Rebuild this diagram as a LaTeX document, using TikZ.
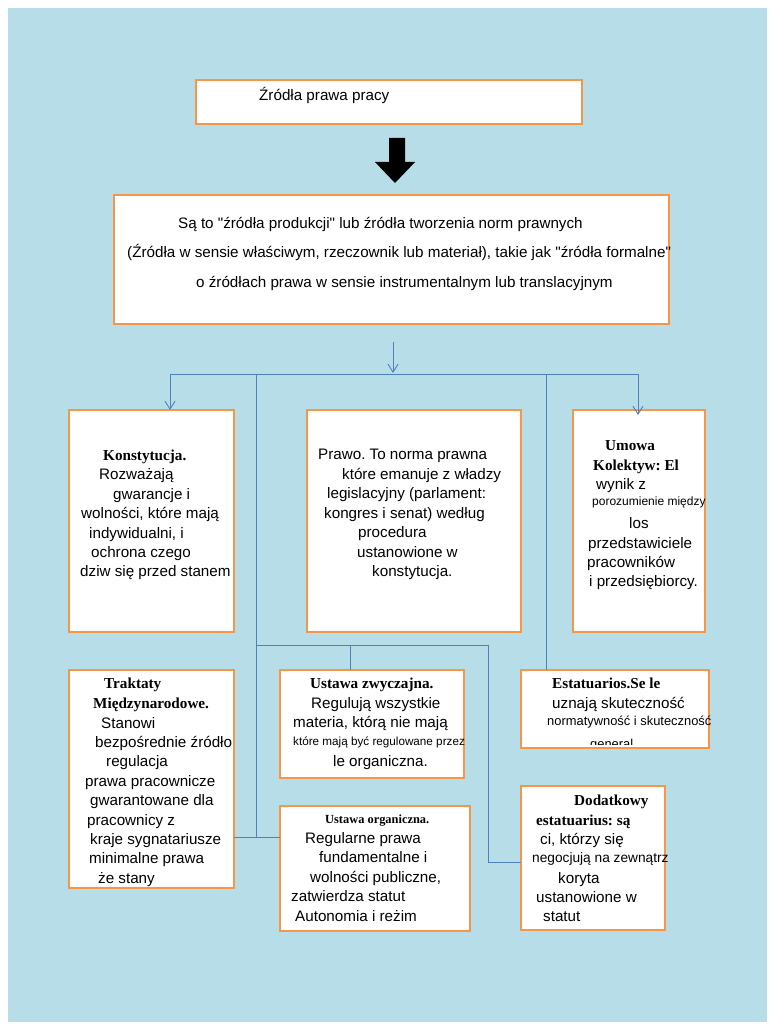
\documentclass[tikz,border=0pt]{standalone}
\usepackage{fontspec}
\setmainfont{Liberation Sans}[Ligatures=TeXOff]
\newfontfamily\hdfont{Liberation Serif}[Ligatures=TeXOff]
\usetikzlibrary{arrows.meta}
\definecolor{bgblue}{HTML}{B7DDE8}
\definecolor{boxorange}{HTML}{F79646}
\definecolor{lineblue}{HTML}{4F81BD}
\tikzset{
  box/.style={draw=boxorange,line width=2.4pt,fill=white},
  conn/.style={draw=lineblue,line width=0.9pt},
  arr/.style={conn,-{Straight Barb[length=8pt,width=10pt,line width=0.9pt]}},
  txt/.style={inner sep=0pt,anchor=base west,font=\fontsize{15.2}{19}\selectfont},
  small/.style={txt,font=\fontsize{12}{15}\selectfont},
  hd/.style={txt,font=\hdfont\bfseries\fontsize{15.2}{19}\selectfont},
}
\newcommand\boxat[5]{\path[box] (#2,#3) rectangle (#4,#5);
  \coordinate (#1-nw) at (#2,#3); \coordinate (#1-se) at (#4,#5);}
\newcommand\tl[5][txt]{\node[#1] (#2) at (#3,#4) {#5};}
\frenchspacing
\begin{document}
\begin{tikzpicture}[x=1pt,y=-1pt]
\useasboundingbox (0,0) rectangle (768,1024);
\fill[white] (0,0) rectangle (768,1024);
\fill[bgblue] (8,8) rectangle (767,1022);

% boxes
\boxat{title}{196}{80}{582}{124}
\boxat{big}{114}{195}{669}{324}
\boxat{konst}{69}{410}{234}{632}
\boxat{prawo}{307}{410}{521}{632}
\boxat{umowa}{573}{410}{705}{632}
\boxat{trakt}{69}{670}{234}{888}
\boxat{uz}{280}{670}{464}{778}
\boxat{uo}{280}{806}{470}{931}
\boxat{est}{521}{670}{709}{748}
\boxat{dod}{521}{786}{665}{930}

% block arrow
\fill[black] (389,138) -- (405,138) -- (405,162) -- (415,162) -- (395,183) -- (375,162) -- (389,162) -- cycle;

% connectors
\coordinate (a0) at (393,342);
\coordinate (a1) at (393,373);
\coordinate (hl) at (170,374);
\coordinate (hr) at (638,374);
\coordinate (v1) at (256,374);
\coordinate (v2) at (546,374);
\coordinate (j1) at (256,645);
\coordinate (j2) at (488,645);
\coordinate (j3) at (350,645);
\coordinate (j4) at (488,862);
\coordinate (j5) at (256,837);
\draw[arr] (a0) -- (a1);
\draw[conn] (hl) -- (hr);
\draw[arr] (hl) -- (hl |- konst-nw);
\draw[arr] (hr) -- ([yshift=-5pt]hr |- umowa-nw);
\draw[conn] (v1) -- (j5);
\draw[conn] (v2) -- (v2 |- est-nw);
\draw[conn] (j1) -- (j2) -- (j4) -- (j4 -| dod-nw);
\draw[conn] (j3) -- (j3 |- uz-nw);
\draw[conn] (j5 -| trakt-se) -- (j5 -| uo-nw);

% texts
\tl{t1}{259}{101}{Źródła prawa pracy}

\tl{b1}{178}{229}{Są to "źródła produkcji" lub źródła tworzenia norm prawnych}
\tl{b2}{127}{258}{(Źródła w sensie właściwym, rzeczownik lub materiał), takie jak "źródła formalne"}
\tl{b3}{196}{287}{o źródłach prawa w sensie instrumentalnym lub translacyjnym}

\tl[hd]{k1}{103}{460}{Konstytucja.}
\tl{k2}{99}{479}{Rozważają}
\tl{k3}{113}{499}{gwarancje i}
\tl{k4}{81}{518}{wolności, które mają}
\tl{k5}{89}{538}{indywidualni, i}
\tl{k6}{91}{557}{ochrona czego}
\tl{k7}{80}{576}{dziw się przed stanem}

\tl{p1}{318}{459}{Prawo. To norma prawna}
\tl{p2}{342}{479}{które emanuje z władzy}
\tl{p3}{327}{498}{legislacyjny (parlament:}
\tl{p4}{324}{518}{kongres i senat) według}
\tl{p5}{358}{537}{procedura}
\tl{p6}{357}{557}{ustanowione w}
\tl{p7}{372}{576}{konstytucja.}

\tl[hd]{u1}{605}{450}{Umowa}
\tl[hd]{u2}{593}{470}{Kolektyw: El}
\tl{u3}{596}{489}{wynik z}
\tl[small]{u4}{592}{505}{porozumienie między}
\tl{u5}{629}{528}{los}
\tl{u6}{588}{548}{przedstawiciele}
\tl{u7}{587}{567}{pracowników}
\tl{u8}{589}{586}{i przedsiębiorcy.}

\tl[hd]{r1}{104}{688}{Traktaty}
\tl[hd]{r2}{93}{708}{Międzynarodowe.}
\tl{r3}{101}{728}{Stanowi}
\tl{r4}{95}{747}{bezpośrednie źródło}
\tl{r5}{106}{766}{regulacja}
\tl{r6}{85}{786}{prawa pracownicze}
\tl{r7}{90}{805}{gwarantowane dla}
\tl{r8}{87}{825}{pracownicy z}
\tl{r9}{90}{844}{kraje sygnatariusze}
\tl{r10}{89}{863}{minimalne prawa}
\tl{r11}{98}{883}{że stany}

\tl[hd]{z1}{310}{688}{Ustawa zwyczajna.}
\tl{z2}{311}{708}{Regulują wszystkie}
\tl{z3}{293}{727}{materia, którą nie mają}
\tl[small,font=\fontsize{11.7}{14}\selectfont]{z4}{293}{745}{które mają być regulowane przez}
\tl{z5}{333}{766}{le organiczna.}

\tl[hd,font=\hdfont\bfseries\fontsize{12.4}{15}\selectfont]{o1}{325}{823}{Ustawa organiczna.}
\tl{o2}{305}{843}{Regularne prawa}
\tl{o3}{319}{862}{fundamentalne i}
\tl{o4}{310}{882}{wolności publiczne,}
\tl{o5}{291}{901}{zatwierdza statut}
\tl{o6}{295}{921}{Autonomia i reżim}

\tl[hd]{e1}{552}{688}{Estatuarios.Se le}
\tl{e2}{552}{708}{uznają skuteczność}
\tl[small,font=\fontsize{12.9}{15}\selectfont]{e3}{547}{725}{normatywność i skuteczność}
\begin{scope}
\clip (est-nw) rectangle (709,744);
\tl[small,font=\fontsize{12.9}{15}\selectfont]{e4}{590}{748}{general}
\end{scope}

\tl[hd]{d1}{574}{805}{Dodatkowy}
\tl[hd]{d2}{536}{825}{estatuarius: są}
\tl{d3}{540}{844}{ci, którzy się}
\tl[small,font=\fontsize{13.7}{16}\selectfont]{d4}{532}{862}{negocjują na zewnątrz}
\tl{d5}{558}{883}{koryta}
\tl{d6}{536}{902}{ustanowione w}
\tl{d7}{543}{921}{statut}
\end{tikzpicture}
\end{document}
